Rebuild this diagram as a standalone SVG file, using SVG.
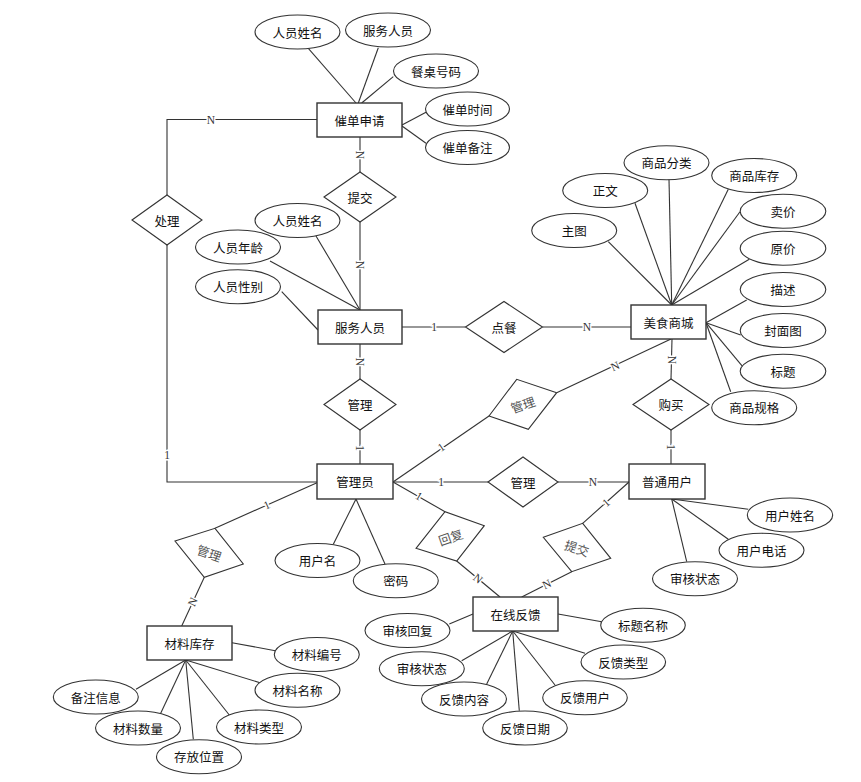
<svg xmlns="http://www.w3.org/2000/svg" width="861" height="782" viewBox="0 0 861 782">
<style>
.bg{fill:#fff}
.ent{fill:#fff;stroke:#333;stroke-width:1.4}
.rel{fill:#fff;stroke:#333;stroke-width:1.1}
.att{fill:#fff;stroke:#333;stroke-width:1.1}
.ln{fill:none;stroke:#333;stroke-width:1.1}
.t{font-family:"Noto Sans CJK SC","Noto Sans",sans-serif;font-size:12.5px;fill:#111;text-anchor:middle;dominant-baseline:central}
.rt{font-family:"Noto Sans CJK SC","Noto Sans",sans-serif;font-size:12.5px;fill:#555;text-anchor:middle;dominant-baseline:central}
.lb{font-family:"Liberation Serif",serif;font-size:11.5px;fill:#333;text-anchor:middle;dominant-baseline:central;stroke:#fff;stroke-width:3;paint-order:stroke}
</style>
<rect class="bg" x="0" y="0" width="861" height="782"/>
<g id="connectors">
<line class="ln" x1="360" y1="137" x2="360" y2="172"/>
<line class="ln" x1="360" y1="222" x2="360" y2="310"/>
<polyline class="ln" points="167,195 167,119.5 317,119.5"/>
<polyline class="ln" points="167,245 167,482 317,482"/>
<line class="ln" x1="402" y1="327" x2="465.5" y2="327"/>
<line class="ln" x1="542.5" y1="327" x2="631" y2="327"/>
<line class="ln" x1="360" y1="344" x2="360" y2="379"/>
<line class="ln" x1="360" y1="430" x2="360" y2="464"/>
<line class="ln" x1="393" y1="482" x2="488" y2="482"/>
<line class="ln" x1="558" y1="482" x2="629" y2="482"/>
<line class="ln" x1="672" y1="339" x2="671" y2="379"/>
<line class="ln" x1="671" y1="430" x2="671" y2="464"/>
<line class="ln" x1="393" y1="482" x2="489" y2="416"/>
<line class="ln" x1="556.7" y1="392.7" x2="671" y2="339"/>
<line class="ln" x1="393" y1="482" x2="445" y2="511.7"/>
<line class="ln" x1="456.7" y1="561" x2="500" y2="597"/>
<line class="ln" x1="629" y1="482" x2="582.7" y2="523.3"/>
<line class="ln" x1="571.7" y1="571.7" x2="521.7" y2="597"/>
<line class="ln" x1="317" y1="482.7" x2="215" y2="528.3"/>
<line class="ln" x1="204.3" y1="577.3" x2="181.7" y2="626"/>
<!-- attribute lines -->
<line class="ln" x1="308.3" y1="48.3" x2="356" y2="103"/>
<line class="ln" x1="378.3" y1="47.7" x2="358.3" y2="103"/>
<line class="ln" x1="393.3" y1="76.7" x2="361.7" y2="103"/>
<line class="ln" x1="402" y1="125" x2="426" y2="112.3"/>
<line class="ln" x1="402" y1="126" x2="426" y2="143.3"/>
<line class="ln" x1="316" y1="236" x2="360" y2="310"/>
<line class="ln" x1="270" y1="261" x2="360" y2="310"/>
<line class="ln" x1="281.7" y1="291.7" x2="318" y2="330"/>
<line class="ln" x1="608.3" y1="241.7" x2="671.7" y2="305"/>
<line class="ln" x1="635" y1="203.3" x2="671.7" y2="305"/>
<line class="ln" x1="669" y1="179.3" x2="671.7" y2="305"/>
<line class="ln" x1="728.3" y1="189.3" x2="671.7" y2="305"/>
<line class="ln" x1="740" y1="211.7" x2="671.7" y2="305"/>
<line class="ln" x1="749.3" y1="259.3" x2="671.7" y2="305"/>
<line class="ln" x1="746.7" y1="300" x2="706" y2="322.7"/>
<line class="ln" x1="740.7" y1="335" x2="706" y2="322.7"/>
<line class="ln" x1="742.7" y1="366.7" x2="706" y2="322.7"/>
<line class="ln" x1="730.7" y1="391.7" x2="706" y2="322.7"/>
<line class="ln" x1="356" y1="499" x2="333.3" y2="544.3"/>
<line class="ln" x1="356" y1="499" x2="385" y2="564"/>
<line class="ln" x1="671.7" y1="499" x2="748.3" y2="509.3"/>
<line class="ln" x1="671.7" y1="499" x2="728.3" y2="539.3"/>
<line class="ln" x1="671.7" y1="499" x2="686.7" y2="561.7"/>
<line class="ln" x1="558" y1="614" x2="601.7" y2="621.7"/>
<line class="ln" x1="449.3" y1="624" x2="473" y2="614"/>
<line class="ln" x1="512.7" y1="631" x2="585" y2="653.3"/>
<line class="ln" x1="512.7" y1="631" x2="555" y2="685"/>
<line class="ln" x1="512.7" y1="631" x2="519.3" y2="710.7"/>
<line class="ln" x1="512.7" y1="631" x2="486.7" y2="684"/>
<line class="ln" x1="512.7" y1="631" x2="461.7" y2="660.7"/>
<line class="ln" x1="232" y1="642.7" x2="275.3" y2="650.7"/>
<line class="ln" x1="185.7" y1="660" x2="260" y2="682.7"/>
<line class="ln" x1="185.7" y1="660" x2="229.3" y2="715"/>
<line class="ln" x1="185.7" y1="660" x2="193.3" y2="739.3"/>
<line class="ln" x1="185.7" y1="660" x2="160.7" y2="713.3"/>
<line class="ln" x1="185.7" y1="660" x2="136" y2="689.3"/>
<!-- cardinality labels -->
<text class="lb" transform="translate(360,155) rotate(90)">N</text>
<text class="lb" transform="translate(360,265) rotate(90)">N</text>
<text class="lb" x="211" y="119.5">N</text>
<text class="lb" x="167" y="455">1</text>
<text class="lb" x="434" y="327">1</text>
<text class="lb" x="587" y="327">N</text>
<text class="lb" transform="translate(360,362) rotate(90)">N</text>
<text class="lb" transform="translate(360,448) rotate(90)">1</text>
<text class="lb" x="441" y="482">1</text>
<text class="lb" x="593" y="482">N</text>
<text class="lb" transform="translate(672,360) rotate(90)">N</text>
<text class="lb" transform="translate(671,447) rotate(90)">1</text>
<text class="lb" transform="translate(441,447) rotate(-34.5)">1</text>
<text class="lb" transform="translate(615,366) rotate(-25)">N</text>
<text class="lb" transform="translate(419,496) rotate(30)">1</text>
<text class="lb" transform="translate(478,578.5) rotate(39)">N</text>
<text class="lb" transform="translate(606,502.7) rotate(-41.5)">1</text>
<text class="lb" transform="translate(546.7,584) rotate(-26)">N</text>
<text class="lb" transform="translate(266.7,505) rotate(-24)">1</text>
<text class="lb" transform="translate(192.7,601.7) rotate(-65)">N</text>
</g>
<g id="cuidan"><rect class="ent" x="317" y="103" width="85" height="34"/><text class="t" x="359.5" y="120">催单申请</text></g>
<g id="fuwu"><rect class="ent" x="318" y="310" width="84" height="34"/><text class="t" x="360" y="327">服务人员</text></g>
<g id="meishi"><rect class="ent" x="631" y="305" width="75" height="34"/><text class="t" x="668.5" y="322">美食商城</text></g>
<g id="admin"><rect class="ent" x="317" y="464" width="76" height="35"/><text class="t" x="355" y="481.5">管理员</text></g>
<g id="user"><rect class="ent" x="629" y="464" width="76" height="35"/><text class="t" x="667" y="481.5">普通用户</text></g>
<g id="feedback"><rect class="ent" x="473" y="597" width="85" height="34"/><text class="t" x="515.5" y="614">在线反馈</text></g>
<g id="cailiao"><rect class="ent" x="147" y="626" width="85" height="34"/><text class="t" x="189.5" y="643">材料库存</text></g>
<g id="r-tijiao1"><polygon class="rel" points="324,197 360,172 396,197 360,222"/><text class="t" x="360" y="197">提交</text></g>
<g id="r-chuli"><polygon class="rel" points="132,220 167,195 202,220 167,245"/><text class="t" x="167" y="220">处理</text></g>
<g id="r-diancan"><polygon class="rel" points="465.5,327 504,301.5 542.5,327 504,352.5"/><text class="t" x="504" y="327">点餐</text></g>
<g id="r-guanli1"><polygon class="rel" points="324,404.5 360,379 396,404.5 360,430"/><text class="t" x="360" y="404.5">管理</text></g>
<g id="r-goumai"><polygon class="rel" points="633,404.5 671,379 709,404.5 671,430"/><text class="t" x="671" y="404.5">购买</text></g>
<g id="r-guanli2"><polygon class="rel" points="488,482 523,457 558,482 523,507"/><text class="t" x="523" y="482">管理</text></g>
<g id="r-guanli3"><polygon class="rel" points="489,416 516.7,379.3 556.7,392.7 528.3,429.3"/><text class="rt" transform="translate(522.8,404.3) rotate(-19)">管理</text></g>
<g id="r-huifu"><polygon class="rel" points="416,548.3 445,511.7 484.3,525.7 456.7,561"/><text class="rt" transform="translate(450.5,536.7) rotate(-19)">回复</text></g>
<g id="r-tijiao2"><polygon class="rel" points="543.3,537.3 582.7,523.3 610.7,558.3 571.7,571.7"/><text class="rt" transform="translate(577,547.7) rotate(18)">提交</text></g>
<g id="r-guanli4"><polygon class="rel" points="175,541 215,528.3 243.3,564 204.3,577.3"/><text class="rt" transform="translate(209.4,552.7) rotate(19)">管理</text></g>
<g id="a1"><ellipse class="att" cx="297.5" cy="32" rx="42.5" ry="17"/><text class="t" x="297.5" y="32">人员姓名</text></g>
<g id="a2"><ellipse class="att" cx="388" cy="30" rx="42.5" ry="17"/><text class="t" x="388" y="30">服务人员</text></g>
<g id="a3"><ellipse class="att" cx="436" cy="71" rx="42.5" ry="17"/><text class="t" x="436" y="71">餐桌号码</text></g>
<g id="a4"><ellipse class="att" cx="467.5" cy="109" rx="42" ry="17"/><text class="t" x="467.5" y="109">催单时间</text></g>
<g id="a5"><ellipse class="att" cx="467.5" cy="147.5" rx="42" ry="17"/><text class="t" x="467.5" y="147.5">催单备注</text></g>
<g id="a6"><ellipse class="att" cx="297.5" cy="220.5" rx="42.5" ry="17"/><text class="t" x="297.5" y="220.5">人员姓名</text></g>
<g id="a7"><ellipse class="att" cx="238" cy="247" rx="42.5" ry="17"/><text class="t" x="238" y="247">人员年龄</text></g>
<g id="a8"><ellipse class="att" cx="238" cy="286.7" rx="42.5" ry="17"/><text class="t" x="238" y="286.7">人员性别</text></g>
<g id="a9"><ellipse class="att" cx="666.5" cy="162.7" rx="42.5" ry="17"/><text class="t" x="666.5" y="162.7">商品分类</text></g>
<g id="a10"><ellipse class="att" cx="605.2" cy="190.5" rx="42.5" ry="17"/><text class="t" x="605.2" y="190.5">正文</text></g>
<g id="a11"><ellipse class="att" cx="754.2" cy="175.5" rx="42.5" ry="17"/><text class="t" x="754.2" y="175.5">商品库存</text></g>
<g id="a12"><ellipse class="att" cx="574.2" cy="230.5" rx="42.5" ry="17"/><text class="t" x="574.2" y="230.5">主图</text></g>
<g id="a13"><ellipse class="att" cx="783" cy="211.2" rx="42.8" ry="17"/><text class="t" x="783" y="211.2">卖价</text></g>
<g id="a14"><ellipse class="att" cx="783" cy="248.3" rx="42.8" ry="17"/><text class="t" x="783" y="248.3">原价</text></g>
<g id="a15"><ellipse class="att" cx="783" cy="289.5" rx="42.8" ry="17"/><text class="t" x="783" y="289.5">描述</text></g>
<g id="a16"><ellipse class="att" cx="783" cy="330.5" rx="42.8" ry="17"/><text class="t" x="783" y="330.5">封面图</text></g>
<g id="a17"><ellipse class="att" cx="783" cy="371.2" rx="42.8" ry="17"/><text class="t" x="783" y="371.2">标题</text></g>
<g id="a18"><ellipse class="att" cx="754.2" cy="407.8" rx="42.5" ry="17"/><text class="t" x="754.2" y="407.8">商品规格</text></g>
<g id="a19"><ellipse class="att" cx="317.5" cy="560.5" rx="42.5" ry="17"/><text class="t" x="317.5" y="560.5">用户名</text></g>
<g id="a20"><ellipse class="att" cx="395.8" cy="580.8" rx="42.5" ry="17"/><text class="t" x="395.8" y="580.8">密码</text></g>
<g id="a21"><ellipse class="att" cx="790" cy="515" rx="42.7" ry="17"/><text class="t" x="790" y="515">用户姓名</text></g>
<g id="a22"><ellipse class="att" cx="761.5" cy="550.3" rx="42.5" ry="17"/><text class="t" x="761.5" y="550.3">用户电话</text></g>
<g id="a23"><ellipse class="att" cx="695" cy="578.8" rx="42.5" ry="17"/><text class="t" x="695" y="578.8">审核状态</text></g>
<g id="a24"><ellipse class="att" cx="643" cy="625.3" rx="42.3" ry="17"/><text class="t" x="643" y="625.3">标题名称</text></g>
<g id="a25"><ellipse class="att" cx="623.3" cy="662" rx="42.3" ry="17"/><text class="t" x="623.3" y="662">反馈类型</text></g>
<g id="a26"><ellipse class="att" cx="585" cy="697.8" rx="42.3" ry="17"/><text class="t" x="585" y="697.8">反馈用户</text></g>
<g id="a27"><ellipse class="att" cx="525" cy="728" rx="42.3" ry="17"/><text class="t" x="525" y="728">反馈日期</text></g>
<g id="a28"><ellipse class="att" cx="464" cy="699" rx="42.5" ry="17"/><text class="t" x="464" y="699">反馈内容</text></g>
<g id="a29"><ellipse class="att" cx="421.8" cy="668.8" rx="42.5" ry="17"/><text class="t" x="421.8" y="668.8">审核状态</text></g>
<g id="a30"><ellipse class="att" cx="407.5" cy="630.5" rx="42.5" ry="17"/><text class="t" x="407.5" y="630.5">审核回复</text></g>
<g id="a31"><ellipse class="att" cx="316.8" cy="654.5" rx="42.5" ry="17"/><text class="t" x="316.8" y="654.5">材料编号</text></g>
<g id="a32"><ellipse class="att" cx="297.5" cy="690.3" rx="42.5" ry="17"/><text class="t" x="297.5" y="690.3">材料名称</text></g>
<g id="a33"><ellipse class="att" cx="259" cy="727" rx="42.5" ry="17"/><text class="t" x="259" y="727">材料类型</text></g>
<g id="a34"><ellipse class="att" cx="199" cy="756.7" rx="42.5" ry="17"/><text class="t" x="199" y="756.7">存放位置</text></g>
<g id="a35"><ellipse class="att" cx="138" cy="728" rx="42.5" ry="17"/><text class="t" x="138" y="728">材料数量</text></g>
<g id="a36"><ellipse class="att" cx="95.8" cy="697" rx="42.5" ry="17"/><text class="t" x="95.8" y="697">备注信息</text></g>
</svg>
